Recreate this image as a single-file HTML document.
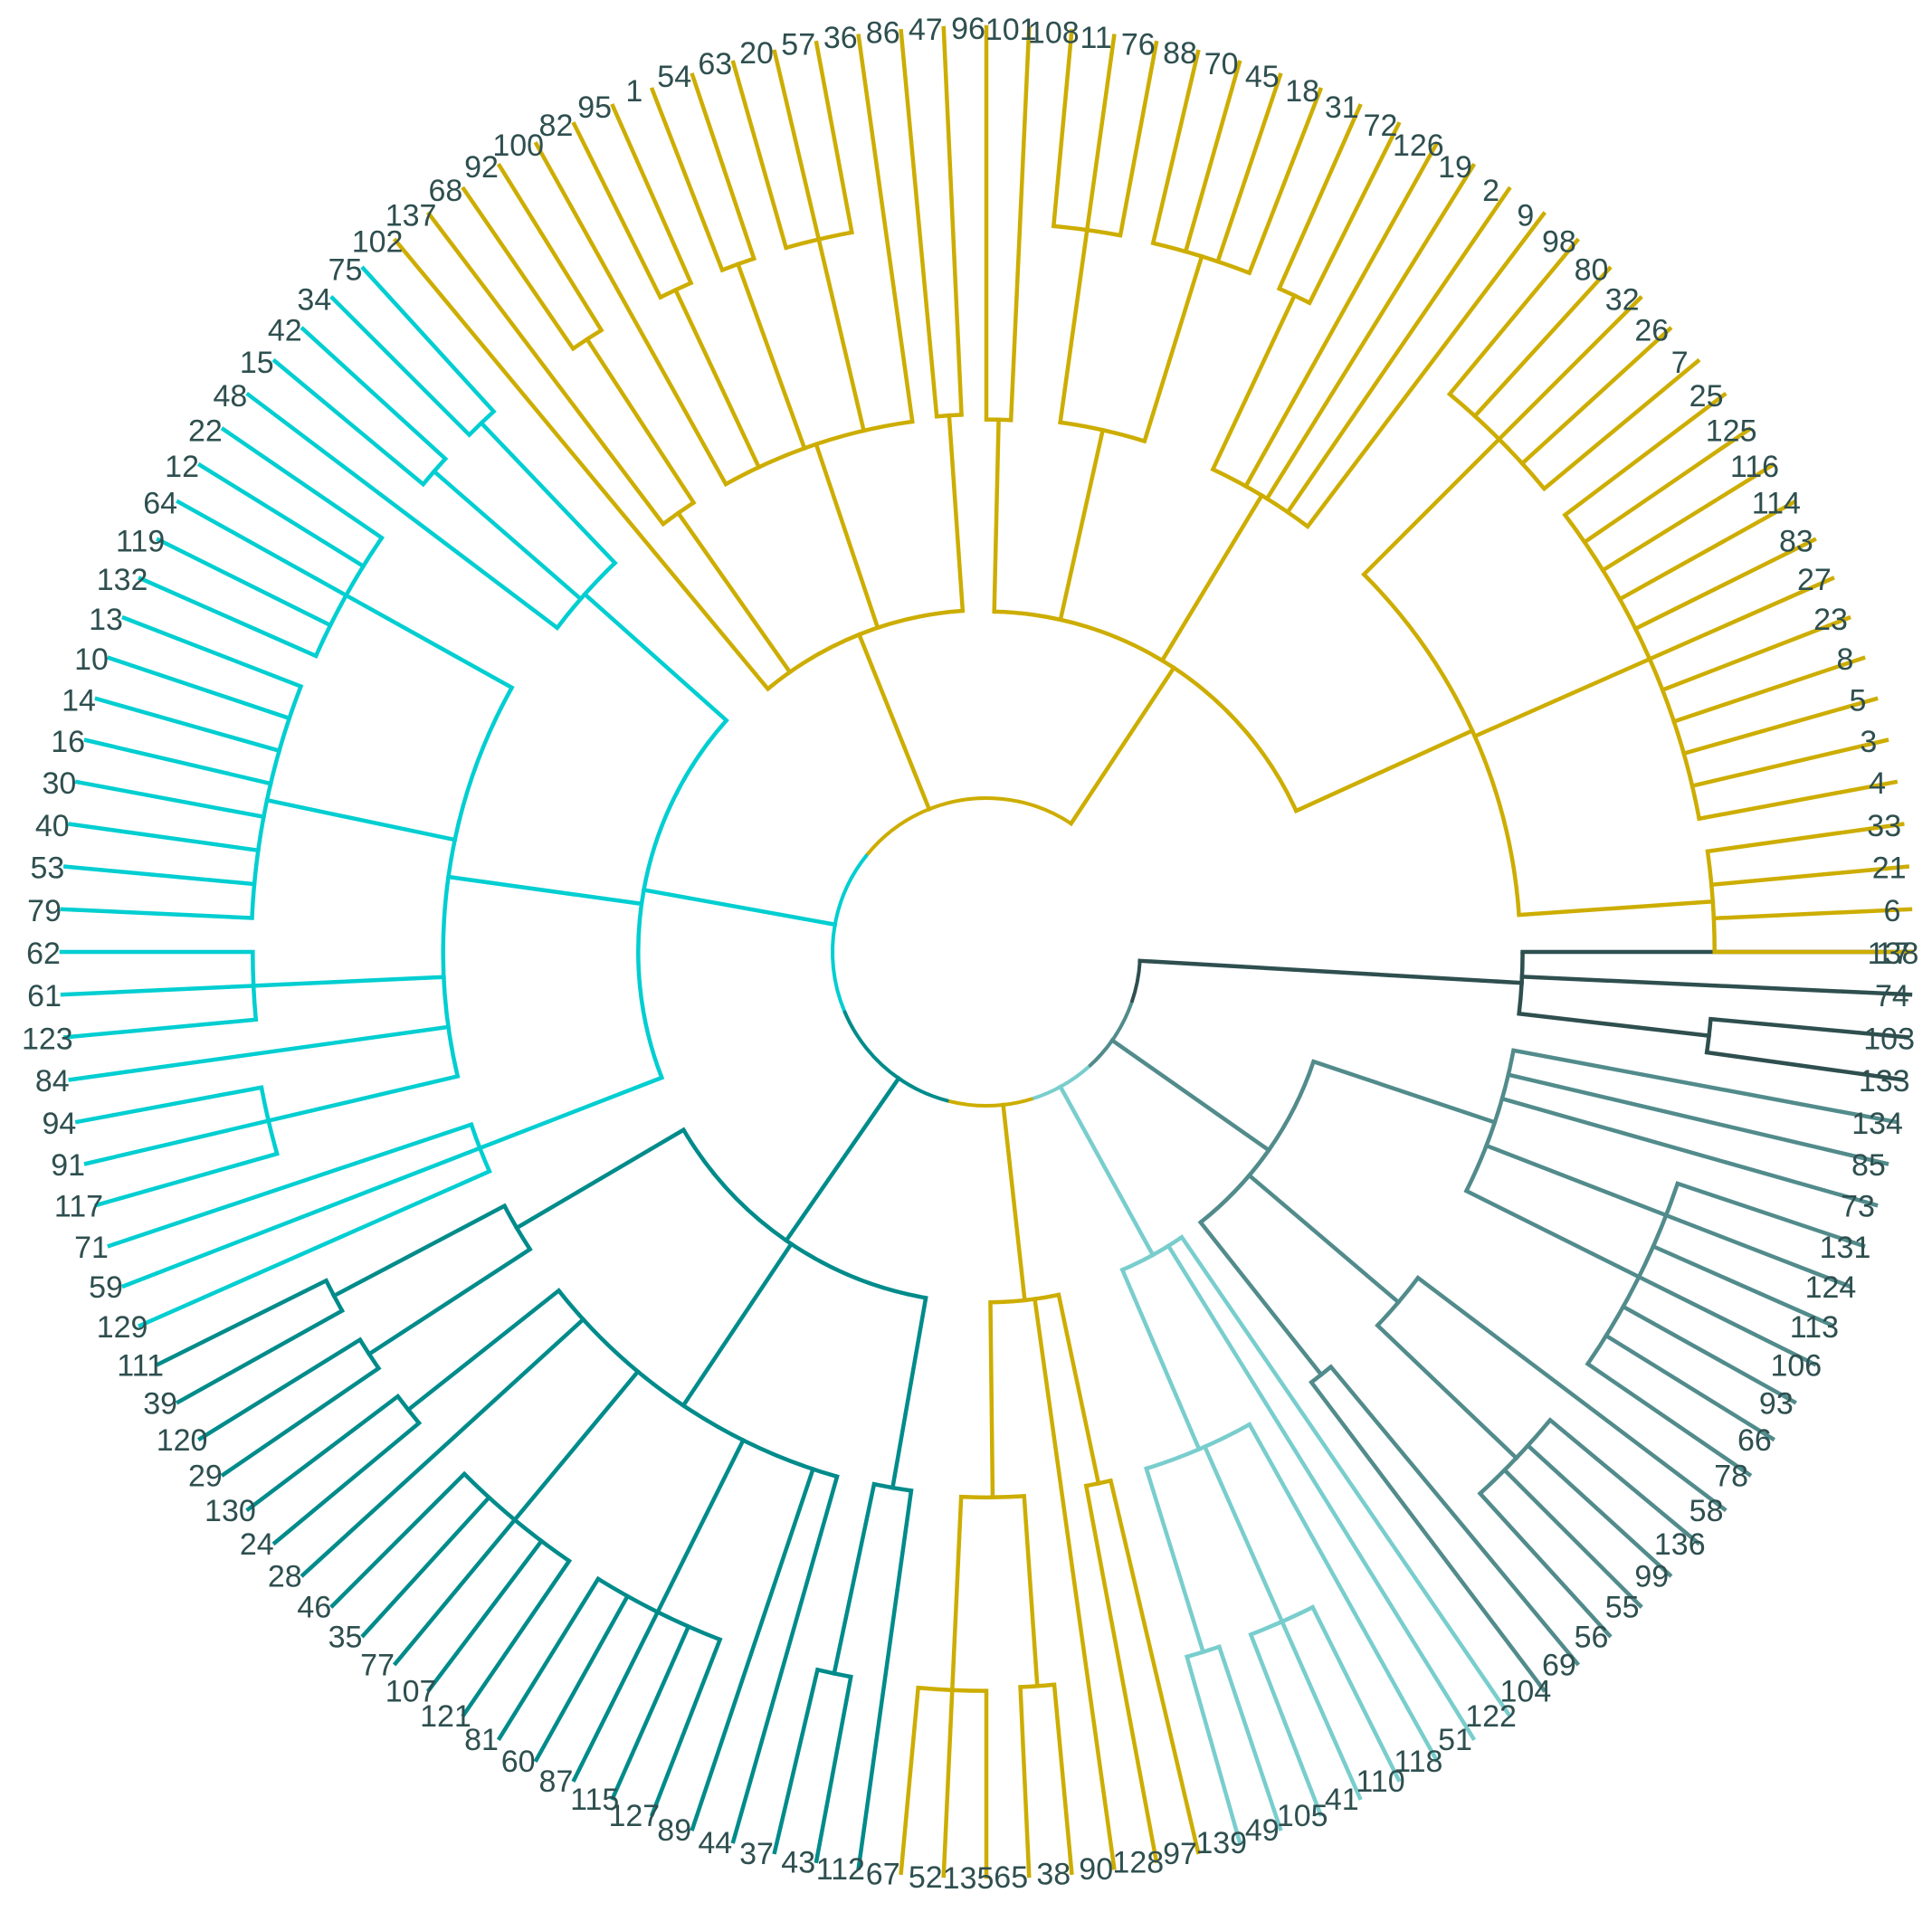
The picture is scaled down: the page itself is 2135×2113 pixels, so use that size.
<!DOCTYPE html>
<html>
<head>
<meta charset="utf-8">
<style>
  html, body { margin: 0; padding: 0; background: #ffffff; }
  svg { display: block; }
  .lbl { font-family: "Liberation Sans", Arial, sans-serif; font-size: 34px; fill: #2F4F4F; }
</style>
</head>
<body>
<svg id="chart" width="2135" height="2113" viewBox="0 0 2135 2113" xmlns="http://www.w3.org/2000/svg">
  <rect x="0" y="0" width="2135" height="2113" fill="#ffffff"></rect>
  <g id="branches"></g>
  <g id="labels"></g>
</svg>
<script>
// ---- data ----
const leafLabels = [17,74,103,133,134,85,73,131,124,113,106,93,66,78,58,136,99,55,56,69,104,122,51,118,110,41,105,49,139,97,128,90,38,65,135,52,67,112,43,37,44,89,127,115,87,60,81,121,107,77,35,46,28,24,130,29,120,39,111,129,59,71,117,91,94,84,123,61,62,79,53,40,30,16,14,10,13,132,119,64,12,22,48,15,42,34,75,102,137,68,92,100,82,95,1,54,63,20,57,36,86,47,96,101,108,11,76,88,70,45,18,31,72,126,19,2,9,98,80,32,26,7,25,125,116,114,83,27,23,8,5,3,4,33,21,6,138];

const nodeIds = ["P103","DARK","G131","S1","P136","S2","S3","STEEL","P105","P139","L2","LIGHT","P97","P38","P135","Pb","GOLDB","P43","P112","P127","P121","P130","T2","P120","P111","Q111","TEAL","P71","P94","P62","G79","G12","C2","P42","P75","C3","CYAN","P68","N137","P82","P1","P63","N592","P47","GL","P96","G108","G88","Gmid","P31","G2","G9","G125","G33","BIG","GR","ROOT"];
const nodeHeights = [25.6,50.4,25.4,50.4,24.9,49.8,50.0,75.2,25.0,24.9,49.8,75.1,49.5,24.5,24.1,49.2,74.5,24.3,49.4,24.3,24.2,24.3,49.2,24.4,24.3,49.3,74.4,49.5,24.3,24.8,24.6,24.9,49.5,25.0,25.1,50.2,74.8,25.1,50.4,25.1,25.1,25.0,50.5,50.2,75.6,50.9,25.4,25.5,50.6,25.9,50.8,25.9,25.9,25.5,50.7,75.8,100];
const nodeChildren = [
  [103,133], [17,74,"P103"],
  [131,113,106,93,66,78], [134,85,73,124,"G131"], [136,99,55,56], [58,"P136"], [69,104], ["S1","S2","S3"],
  [110,41,105], [49,139], [118,"P105","P139"], [122,51,"L2"],
  [97,128], [38,65], [135,52,67], ["P38","P135"], ["P97",90,"Pb"],
  [43,37], [112,"P43"], [127,115,87,60,81], [121,107,77,35,46], [130,24], [44,89,"P127","P121",28,"P130"], [29,120], [39,111], ["P120","P111"], ["P112","T2","Q111"],
  [129,59,71], [117,91,94], [123,61,62], [79,53,40,30,16,14,10,13], [132,119,64,12,22], ["P94",84,"P62","G79","G12"], [15,42], [34,75], [48,"P42","P75"], ["P71","C2","C3"],
  [68,92], [137,"P68"], [82,95], [1,54], [63,20,57], [100,"P82","P1","P63",36], [86,47], [102,"N137","N592","P47"],
  [96,101], [108,11,76], [88,70,45,18], ["G108","G88"], [31,72], ["P31",126,19,2,9], [98,80,32,26,7], [25,125,116,114,83,27,23,8,5,3,4], [33,21,6,138], ["G9","G125","G33"], ["P96","Gmid","G2","BIG"],
  ["DARK","STEEL","LIGHT","GOLDB","TEAL","CYAN","GL","GR"]
];
const clusterIds = ["DARK","STEEL","LIGHT","GOLDB","TEAL","CYAN","GL","GR"];
const clusterColors = ["#2F4F4F","#528B8B","#79CDCD","#CDAD00","#008B8B","#00CED1","#CDAD00","#CDAD00"];

// ---- geometry ----
const CX = 1090, CY = 1052, R0 = 170, RL = 1022;
const NS = "http://www.w3.org/2000/svg";
const nLeaf = leafLabels.length;
const leafAngle = {};
leafLabels.forEach((l, i) => { leafAngle[l] = i * 360 / (nLeaf - 1); });
const nodeIndex = {};
nodeIds.forEach((id, i) => { nodeIndex[id] = i; });
function rOf(h) { return R0 + (1 - h / 100) * (RL - R0); }
function pt(r, a) { const t = a * Math.PI / 180; return [CX + r * Math.cos(t), CY + r * Math.sin(t)]; }
const angleCache = {};
function angleOf(c) {
  if (typeof c === "number") return leafAngle[c];
  if (angleCache[c] !== undefined) return angleCache[c];
  const ch = nodeChildren[nodeIndex[c]].map(angleOf);
  const a = (Math.min(...ch) + Math.max(...ch)) / 2;
  angleCache[c] = a;
  return a;
}
const gB = document.getElementById("branches");
const gL = document.getElementById("labels");
function line(r1, r2, a, color, name) {
  const p1 = pt(r1, a), p2 = pt(r2, a);
  const el = document.createElementNS(NS, "line");
  el.setAttribute("x1", p1[0]); el.setAttribute("y1", p1[1]);
  el.setAttribute("x2", p2[0]); el.setAttribute("y2", p2[1]);
  el.setAttribute("stroke", color); el.setAttribute("stroke-width", "4.5");
  el.setAttribute("stroke-linecap", "square");
  
  
  gB.appendChild(el);
}
function arc(r, a1, a2, color, name, w) {
  if (a2 - a1 < 0.01) return;
  const p1 = pt(r, a1), p2 = pt(r, a2);
  const el = document.createElementNS(NS, "path");
  el.setAttribute("d", "M" + p1[0] + " " + p1[1] + " A" + r + " " + r + " 0 " + ((a2 - a1) > 180 ? 1 : 0) + " 1 " + p2[0] + " " + p2[1]);
  el.setAttribute("fill", "none"); el.setAttribute("stroke", color); el.setAttribute("stroke-width", w || "4.5");
  
  
  gB.appendChild(el);
}
function drawNode(id, color) {
  const i = nodeIndex[id];
  const r = rOf(nodeHeights[i]);
  const ch = nodeChildren[i];
  const angs = ch.map(angleOf);
  arc(r, Math.min(...angs), Math.max(...angs), color, "node-arc-" + id.toLowerCase());
  ch.forEach(c => {
    if (typeof c === "number") {
      line(r, RL, leafAngle[c], color, "leaf-branch-" + c);
    } else {
      const cr = rOf(nodeHeights[nodeIndex[c]]);
      line(r, cr, angleOf(c), color, "branch-" + c.toLowerCase());
      drawNode(c, color);
    }
  });
}
const rootR = rOf(nodeHeights[nodeIndex["ROOT"]]);
arc(rootR, angleOf("DARK"), angleOf("GR"), "#111111", "root-ring", "2");
clusterIds.forEach((cid, k) => {
  const a = angleOf(cid);
  if (k < clusterIds.length - 1) {
    const b = angleOf(clusterIds[k + 1]);
    const m = (a + b) / 2;
    arc(rootR, a, m, clusterColors[k], "root-arc-" + cid.toLowerCase() + "-a", "4");
    arc(rootR, m, b, clusterColors[k + 1], "root-arc-" + cid.toLowerCase() + "-b", "4");
  }
});
clusterIds.forEach((cid, k) => {
  const cr = rOf(nodeHeights[nodeIndex[cid]]);
  line(rootR, cr, angleOf(cid), clusterColors[k], "cluster-stem-" + cid.toLowerCase());
  drawNode(cid, clusterColors[k]);
});
leafLabels.forEach(l => {
  const p = pt(RL, leafAngle[l]);
  const t = document.createElementNS(NS, "text");
  t.setAttribute("x", p[0] - 20);
  t.setAttribute("y", p[1] + 2);
  t.setAttribute("text-anchor", "middle");
  t.setAttribute("dominant-baseline", "central");
  t.setAttribute("class", "lbl");
  
  
  t.textContent = String(l);
  gL.appendChild(t);
});
</script>
</body>
</html>
